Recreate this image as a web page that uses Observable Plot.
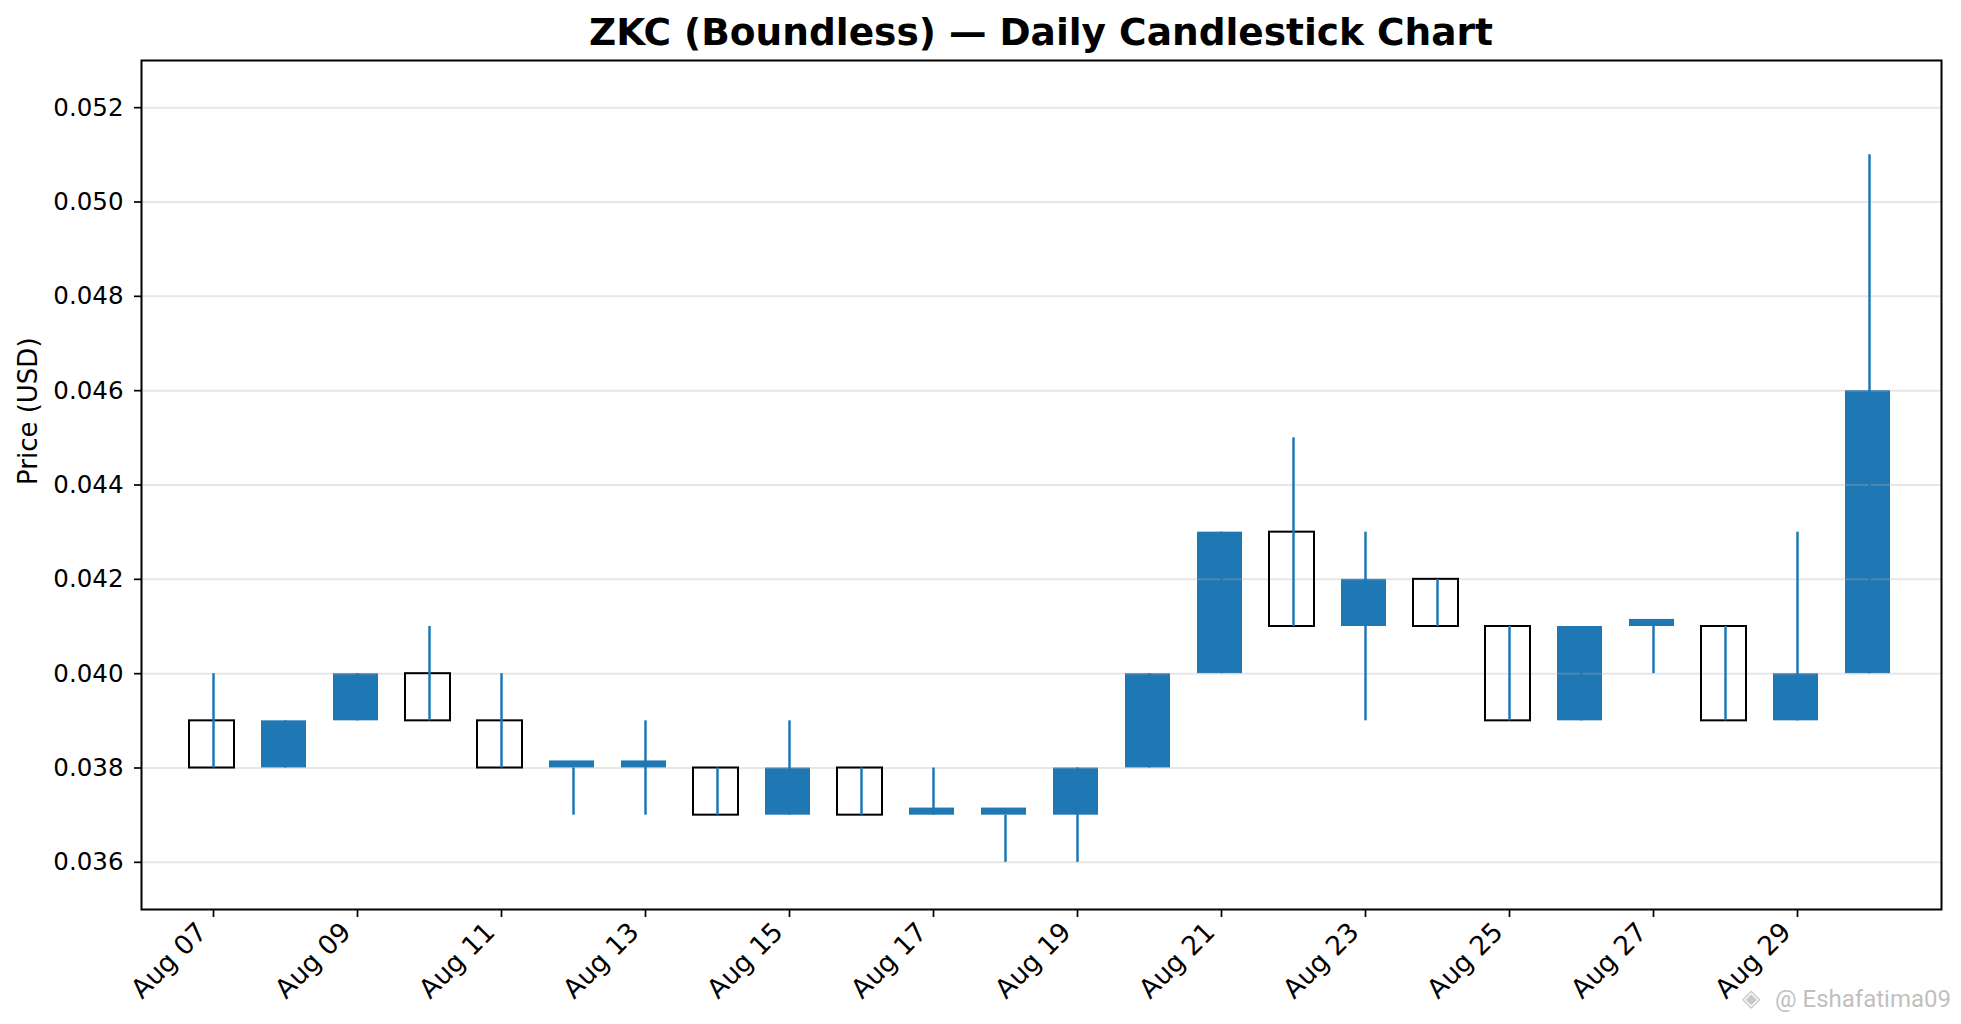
<!DOCTYPE html>
<html>
<head>
<meta charset="utf-8">
<script src="https://cdn.jsdelivr.net/npm/d3@7"></script>
<script src="https://cdn.jsdelivr.net/npm/@observablehq/plot@0.6"></script>
<style>
html, body { margin: 0; padding: 0; background: #fff; }
#wrap { position: relative; width: 1961px; height: 1024px; overflow: hidden; font-family: "DejaVu Sans", sans-serif; }
#title { box-sizing: border-box; height: 56px; padding-top: 14.3px; margin-left: 141px; width: 1800px;
  font-size: 37.5px; line-height: 1; font-weight: bold; text-align: center; color: #000; white-space: nowrap; overflow: visible; }
#chart { position: absolute; left: 0; top: 56px; }
#chart svg { display: block; }
#wmicon { position: absolute; left: 1742px; top: 984px; font-family: "DejaVu Sans", sans-serif; font-size: 24px;
  color: rgba(175,175,175,0.7); }
#wm { position: absolute; left: 1775px; top: 985px; font-family: Roboto, sans-serif; font-size: 24px;
  color: rgba(170,170,170,0.75); white-space: nowrap; }
</style>
</head>
<body>
<div id="wrap">
  <div id="title">ZKC (Boundless) — Daily Candlestick Chart</div>
  <div id="chart"></div>
  <div id="wmicon">◈</div>
  <div id="wm">@ Eshafatima09</div>
</div>
<script>
// ---- data ----
const dates  = ["2025-08-07","2025-08-08","2025-08-09","2025-08-10","2025-08-11","2025-08-12",
                "2025-08-13","2025-08-14","2025-08-15","2025-08-16","2025-08-17","2025-08-18",
                "2025-08-19","2025-08-20","2025-08-21","2025-08-22","2025-08-23","2025-08-24",
                "2025-08-25","2025-08-26","2025-08-27","2025-08-28","2025-08-29","2025-08-30"];
const opens  = [0.039,0.038,0.039,0.040,0.039,0.038,0.038,0.038,0.037,0.038,0.037,0.037,
                0.037,0.038,0.040,0.043,0.041,0.042,0.041,0.039,0.041,0.041,0.039,0.040];
const highs  = [0.040,0.039,0.040,0.041,0.040,0.038,0.039,0.038,0.039,0.038,0.038,0.037,
                0.038,0.040,0.043,0.045,0.043,0.042,0.041,0.041,0.041,0.041,0.043,0.051];
const lows   = [0.038,0.038,0.039,0.039,0.038,0.037,0.037,0.037,0.037,0.037,0.037,0.036,
                0.036,0.038,0.040,0.041,0.039,0.041,0.039,0.039,0.040,0.039,0.039,0.040];
const closes = [0.038,0.039,0.040,0.039,0.038,0.038,0.038,0.037,0.038,0.037,0.037,0.037,
                0.038,0.040,0.043,0.041,0.042,0.041,0.039,0.041,0.041,0.039,0.040,0.046];
const yTicks = [0.036,0.038,0.040,0.042,0.044,0.046,0.048,0.050,0.052];
const xTickDates = ["2025-08-07","2025-08-09","2025-08-11","2025-08-13","2025-08-15","2025-08-17",
                    "2025-08-19","2025-08-21","2025-08-23","2025-08-25","2025-08-27","2025-08-29"];
const xDomain = ["2025-08-06","2025-08-31"];
const yDomain = [0.035, 0.053];

// ---- build table ----
const parse = d3.utcParse("%Y-%m-%d");
const data = dates.map((d, i) => ({
  date: parse(d), open: opens[i], high: highs[i], low: lows[i], close: closes[i],
  up: closes[i] >= opens[i]
}));
const xTicks = xTickDates.map(parse);
const MIN_BODY = 0.00015;
const HALF_W_HOURS = 7.2; // body width 0.6 day
const bx1 = d => d3.utcHour.offset(d.date, -HALF_W_HOURS);
const bx2 = d => d3.utcHour.offset(d.date, HALF_W_HOURS);
const by1 = d => Math.min(d.open, d.close);
const by2 = d => Math.max(Math.max(d.open, d.close), Math.min(d.open, d.close) + MIN_BODY);
const BLUE = "#1f77b4";
const fmtDate = d3.utcFormat("%b %d");

const chart = Plot.plot({
  width: 1961,
  height: 968,
  marginLeft: 141,
  marginRight: 20,
  marginTop: 4,
  marginBottom: 115,
  style: { fontFamily: "DejaVu Sans, sans-serif", fontSize: "24px", color: "#000", background: "#fff" },
  x: { type: "utc", domain: xDomain.map(parse) },
  y: { domain: yDomain },
  marks: [
    Plot.rect(data.filter(d => d.up), { x1: bx1, x2: bx2, y1: by1, y2: by2, fill: BLUE }),
    Plot.gridY(yTicks, { stroke: "#b0b0b0", strokeOpacity: 0.3, strokeWidth: 2 }),
    Plot.rect(data.filter(d => !d.up), { x1: bx1, x2: bx2, y1: by1, y2: by2, fill: "none", stroke: "#000", strokeWidth: 2 }),
    Plot.ruleX(data, { x: "date", y1: "low", y2: "high", stroke: BLUE, strokeWidth: 2.5 }),
    Plot.axisY({ ticks: yTicks, tickFormat: d3.format(".3f"), tickSize: 7, tickPadding: 11, fontSize: 24.5, label: null, strokeWidth: 1.7 }),
    Plot.axisX({ ticks: xTicks, tickFormat: () => "", tickSize: 8, label: null, strokeWidth: 1.7 }),
    Plot.text(xTicks, { x: d => d, text: d => fmtDate(d), frameAnchor: "bottom", dx: -5, dy: 24,
                        rotate: -45, textAnchor: "end", lineAnchor: "bottom", fontSize: 26.5, fill: "#000" }),
    Plot.text(["Price (USD)"], { frameAnchor: "left", dx: -113, rotate: -90, fontSize: 26, fill: "#000" }),
    Plot.frame({ stroke: "#000", strokeWidth: 2 })
  ]
});
document.getElementById("chart").appendChild(chart);
</script>
</body>
</html>
